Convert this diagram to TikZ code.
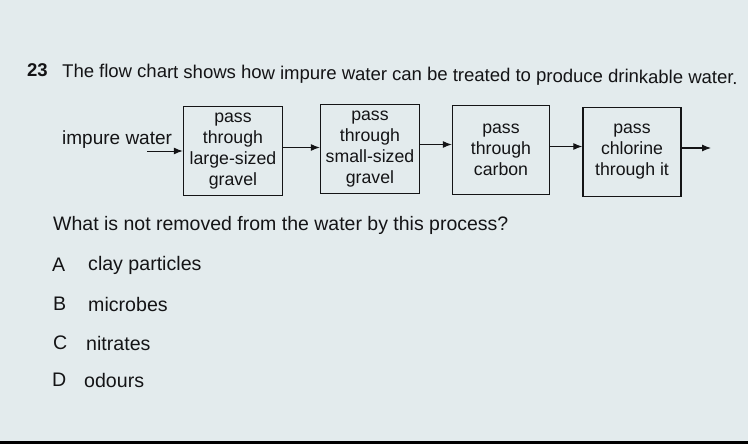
\documentclass[tikz,border=0pt]{standalone}
\usepackage{fontspec}
\setmainfont{Liberation Sans}
\usetikzlibrary{arrows.meta}
\definecolor{paper}{HTML}{E3EBED}
\definecolor{ink}{HTML}{141416}
\begin{document}
\begin{tikzpicture}[x=1pt,y=-1pt,
  stepbox/.style={draw=ink,line width=1.4pt,minimum width=99pt,minimum height=89pt,
    inner sep=0pt,align=center,text=ink,font=\fontsize{17.7}{21}\selectfont},
  flow/.style={draw=ink,line width=1pt,-{Latex[length=9pt,width=7pt]}},
  txt/.style={anchor=west,inner sep=0pt,text=ink,font=\fontsize{19.6}{23}\selectfont}]
\useasboundingbox (0,0) rectangle (748,444);
\fill[paper] (0,0) rectangle (748,444);
\fill[black] (0,441) rectangle (748,444);
% title
\node[txt,anchor=base west,font=\fontsize{18.5}{22}\bfseries] (num) at (27,77) {23};
\node[txt,anchor=base west,font=\fontsize{18.5}{22}\selectfont,rotate=-0.6] (title) at (62,77) {The flow chart shows how impure water can be treated to produce drinkable water.};
% flow chart
\node[stepbox] (b1) at (233,151) {pass\\through\\large-sized\\gravel};
\node[stepbox] (b2) at (370,149) {pass\\through\\small-sized\\gravel};
\node[stepbox,minimum width=97pt] (b3) at (501,150) {pass\\through\\carbon};
\node[stepbox,minimum width=98pt] (b4) at (632,152) {pass\\chlorine\\through it};
\node[txt,font=\fontsize{19}{22}\selectfont] (imp) at (62,140) {impure water};
\coordinate (start) at (147,151);
\coordinate (finish) at (711,148);
\draw[flow] (start) -- (b1.west |- start);
\draw[flow] ([yshift=3.5pt]b1.east) -- ([yshift=3.5pt]b1.east -| b2.west);
\draw[flow] ([yshift=4.5pt]b2.east) -- ([yshift=4.5pt]b2.east -| b3.west);
\draw[flow] ([yshift=3.5pt]b3.east) -- ([yshift=3.5pt]b3.east -| b4.west);
\draw[flow] ([yshift=4pt]b4.east) -- (finish);
% question
\node[txt,font=\fontsize{19.5}{23}\selectfont] (q) at (53,225) {What is not removed from the water by this process?};
\node[txt] (la) at (52,265) {A};
\node[txt] (oa) at (88,265) {clay particles};
\node[txt] (lb) at (53,304) {B};
\node[txt] (ob) at (88,304) {microbes};
\node[txt] (lc) at (53,343) {C};
\node[txt] (oc) at (86,343) {nitrates};
\node[txt] (ld) at (52,380) {D};
\node[txt] (od) at (84,380) {odours};
\end{tikzpicture}
\end{document}
